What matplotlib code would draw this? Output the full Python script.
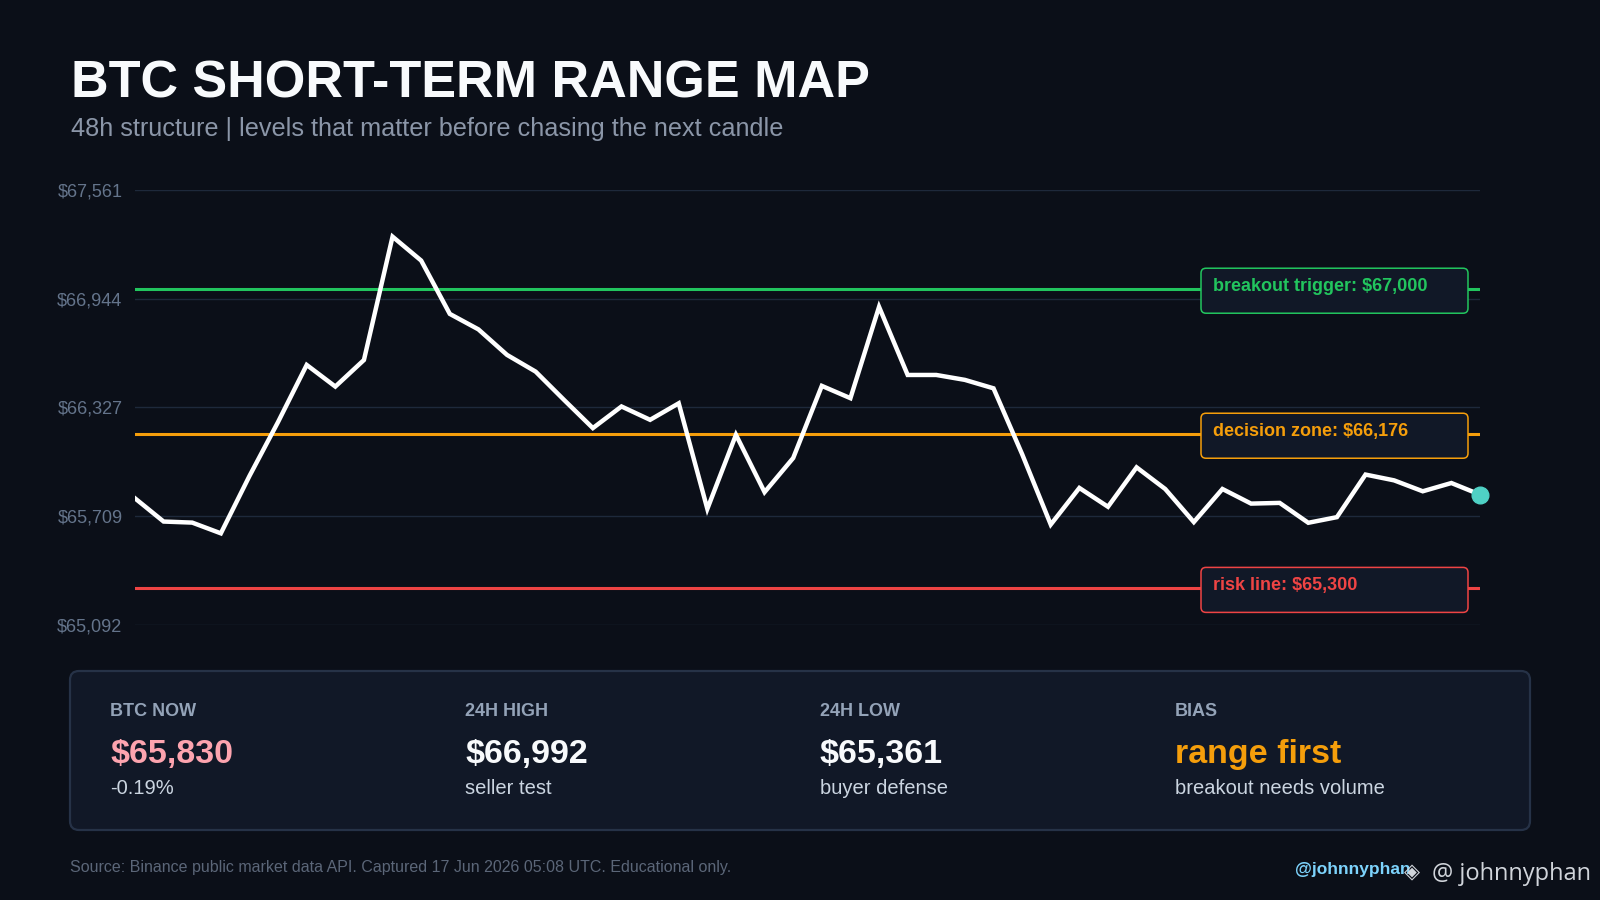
import numpy as np
import matplotlib
matplotlib.use("Agg")
import matplotlib.pyplot as plt
from matplotlib.patches import FancyBboxPatch

# hourly closes, last 48h
prices = [65809, 65677, 65671, 65610, 65936, 66243, 66567, 66444, 66595, 67296,
          67160, 66857, 66769, 66624, 66529, 66367, 66208, 66331, 66255, 66349,
          65749, 66170, 65844, 66038, 66448, 66378, 66897, 66510, 66510, 66482,
          66434, 66060, 65660, 65868, 65761, 65985, 65862, 65674, 65862, 65779,
          65783, 65670, 65702, 65944, 65911, 65849, 65896, 65830]
y_ticks = [65092, 65709, 66327, 66944, 67561]
level_names = ["breakout trigger", "decision zone", "risk line"]
level_values = [67000, 66176, 65300]
level_colors = ["#22c55e", "#f59e0b", "#ef4444"]

card_labels = ["BTC NOW", "24H HIGH", "24H LOW", "BIAS"]
card_values = ["$65,830", "$66,992", "$65,361", "range first"]
card_notes = ["-0.19%", "seller test", "buyer defense", "breakout needs volume"]
card_colors = ["#fda4af", "#f8fafc", "#f8fafc", "#f59e0b"]

BG = "#0b0f18"
PANEL = "#111827"
FONT = "Liberation Sans"
W, H = 1600, 900

plt.rcParams['font.family'] = [FONT, 'DejaVu Sans']

fig = plt.figure(figsize=(16, 9), dpi=100, facecolor=BG)


def fx(x):
    return x / W


def fy(y):
    # y measured from top of image
    return 1 - y / H


# title block
fig.text(fx(71), fy(97), "BTC SHORT-TERM RANGE MAP", color="#f8fafc",
         fontsize=37.5, fontweight="bold", va="baseline", ha="left")
fig.text(fx(71), fy(136), "48h structure | levels that matter before chasing the next candle",
         color="#8b96a8", fontsize=18.2, va="baseline", ha="left")

# price chart
ax_l, ax_r, ax_t, ax_b = 135, 1480, 190, 624.5
ax = fig.add_axes([fx(ax_l), fy(ax_b), fx(ax_r - ax_l), (ax_b - ax_t) / H])
ax.set_facecolor(BG)
x = np.arange(len(prices))
ax.set_xlim(0, len(prices) - 1)
ax.set_ylim(y_ticks[0], y_ticks[-1])
ax.set_yticks(y_ticks)
ax.set_yticklabels([f"${v:,}" for v in y_ticks])
ax.set_xticks([])
ax.tick_params(axis="y", length=0, pad=9, labelsize=13, labelcolor="#64748b")
for s in ax.spines.values():
    s.set_visible(False)
ax.grid(axis="y", color="#1e293b", lw=1)
ax.set_axisbelow(True)

for val, col in zip(level_values, level_colors):
    ax.axhline(val, color=col, lw=2.2, zorder=2)

ax.plot(x, prices, color="white", lw=3.2, zorder=4, solid_joinstyle="miter")
ax.plot(x[-1], prices[-1], "o", ms=12, color="#4fd1c5", zorder=6, clip_on=False)

# level tags, fixed size boxes sitting on each line
fig.canvas.draw()
for name, val, col in zip(level_names, level_values, level_colors):
    yd = ax.transData.transform((0, val))[1]
    box = FancyBboxPatch((1201, yd - 24.5), 267, 45,
                         boxstyle="round,pad=0,rounding_size=5",
                         fc=PANEL, ec=col, lw=1.1, transform=None, zorder=5)
    fig.patches.append(box)
    fig.text(1213 / W, (yd + 2) / H, f"{name}: ${val:,}", color=col,
             fontsize=13, fontweight="bold", va="center", ha="left", zorder=7)

# stats card
card = FancyBboxPatch((70, 900 - 830), 1460, 159,
                      boxstyle="round,pad=0,rounding_size=9",
                      fc=PANEL, ec="#263247", lw=1.6, transform=None, zorder=1)
fig.patches.append(card)
col_x = [110, 465, 820, 1175]
for cx, lab, val, note, c in zip(col_x, card_labels, card_values, card_notes, card_colors):
    fig.text(fx(cx), fy(716), lab, color="#94a3b8", fontsize=13,
             fontweight="bold", va="baseline", zorder=3)
    fig.text(fx(cx), fy(763), val, color=c, fontsize=24.5,
             fontweight="bold", va="baseline", zorder=3)
    fig.text(fx(cx), fy(794), note, color="#cbd5e1", fontsize=14.5,
             va="baseline", zorder=3)

# footer
fig.text(fx(70), fy(872), "Source: Binance public market data API. Captured 17 Jun 2026 05:08 UTC. Educational only.",
         color="#5b6678", fontsize=11.5, va="baseline")
fig.text(fx(1295), fy(874), "@johnnyphan", color="#7dd3fc", fontsize=12.5,
         fontweight="bold", va="baseline")
fig.text(fx(1412), fy(872), "\u25c8", color="#d1d5db", fontsize=15,
         va="center", ha="center", family=["DejaVu Sans"])
fig.text(fx(1432), fy(880), "@ johnnyphan", color="#d1d5db", fontsize=17,
         va="baseline", family=["Open Sans", "DejaVu Sans"])

fig.savefig("out.png", dpi=100, facecolor=BG)
